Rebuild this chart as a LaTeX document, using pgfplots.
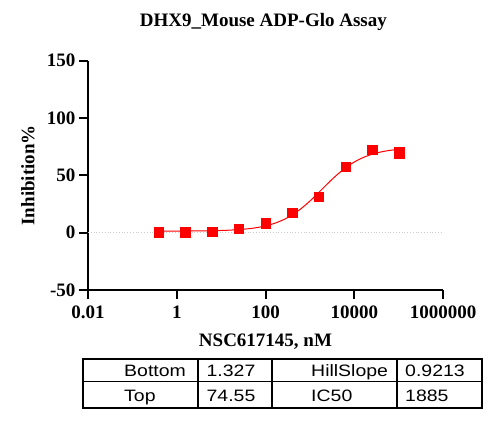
\documentclass[border=0pt]{standalone}
\usepackage{fontspec}
\setmainfont{Liberation Serif}
\newfontfamily\tabfont{Liberation Sans}
\usepackage{pgfplots}
\pgfplotsset{compat=1.18}
\newcommand{\chartfont}{\fontsize{19}{21}\selectfont\bfseries}
\newcommand{\cell}[1]{{\tabfont\fontsize{16.5}{18}\selectfont\scalebox{1.18}[1]{#1}}}

% 4-parameter fit, evaluated at points along the concentration axis
\pgfplotstableread{
x        y
0.390625 1.356
0.631    1.373
1        1.397
2.512    1.491
6.310    1.709
15.85    2.213
39.81    3.364
63.10    4.395
100      5.915
158.5    8.114
251.2    11.217
398.1    15.435
631.0    20.900
1000     27.543
1585     35.03
2512     42.76
3981     50.07
6310     56.44
10000    61.60
15849    65.53
25119    68.38
39811    70.40
63096    71.78
102400   72.75
}\fitcurve

\pgfplotstableread{
x        y
0.390625 0.3
1.5625   0.3
6.25     0.6
25       3.3
100      8.2
400      17.3
1600     31.6
6400     57.6
25600    72.2
102400   70.5
102400   68.7
}\measured

\begin{document}
\begin{tikzpicture}[x=1pt,y=1pt]
\path[use as bounding box] (0,0) rectangle (500,420);
\begin{axis}[
  at={(88pt,130pt)}, anchor=south west,
  scale only axis, width=355pt, height=229.3pt,
  xmode=log, xmin=0.01, xmax=1000000,
  ymin=-50, ymax=150,
  xtick={0.01,1,100,10000,1000000},
  xticklabels={0.01,1,100,10000,1000000},
  ytick={-50,0,50,100,150},
  yticklabels={-50,0,50,100,150},
  xminorticks=false, yminorticks=false,
  axis lines*=left,
  axis line style={line width=2.5pt},
  tick align=outside, major tick length=9pt,
  every tick/.style={black, line width=2pt},
  tick label style={font=\chartfont},
  xticklabel style={yshift=-3pt},
  label style={font=\chartfont},
  title style={font=\chartfont, at={(axis description cs:0.494,1.143)}, anchor=center},
  title={DHX9\_Mouse ADP-Glo Assay},
  xlabel={NSC617145, nM},
  ylabel={Inhibition\%},
  xlabel style={at={(axis description cs:0.5,-0.227)}, anchor=center},
  ylabel style={at={(axis description cs:-0.169,0.5)}, anchor=center},
  clip=false,
]
\addplot[gray!40, dotted, line width=0.8pt] coordinates {(0.01,0) (1000000,0)};
\addplot[red, line width=1pt, smooth] table[x=x, y=y] {\fitcurve};
\addplot[only marks, mark=square*, mark size=4.7pt, red, mark options={fill=red, draw=red}] table[x=x, y=y] {\measured};
\end{axis}
% parameter table
\draw[line width=2pt] (83.3,61) rectangle (481.7,12.3);
\draw[line width=1pt] (83.3,38.3) -- (481.7,38.3);
\draw[line width=1.8pt] (198,61) -- (198,12.3);
\draw[line width=2.6pt] (272,61) -- (272,12.3);
\draw[line width=1.8pt] (396.7,61) -- (396.7,12.3);
\node[anchor=base west, inner sep=0] at (124,43.3) {\cell{Bottom}};
\node[anchor=base west, inner sep=0] at (124,18.3) {\cell{Top}};
\node[anchor=base, inner sep=0] at (231,43.3) {\cell{1.327}};
\node[anchor=base, inner sep=0] at (231,18.3) {\cell{74.55}};
\node[anchor=base west, inner sep=0] at (311,43.3) {\cell{HillSlope}};
\node[anchor=base west, inner sep=0] at (311,18.3) {\cell{IC50}};
\node[anchor=base west, inner sep=0] at (405,43.3) {\cell{0.9213}};
\node[anchor=base west, inner sep=0] at (405,18.3) {\cell{1885}};
\end{tikzpicture}
\end{document}
